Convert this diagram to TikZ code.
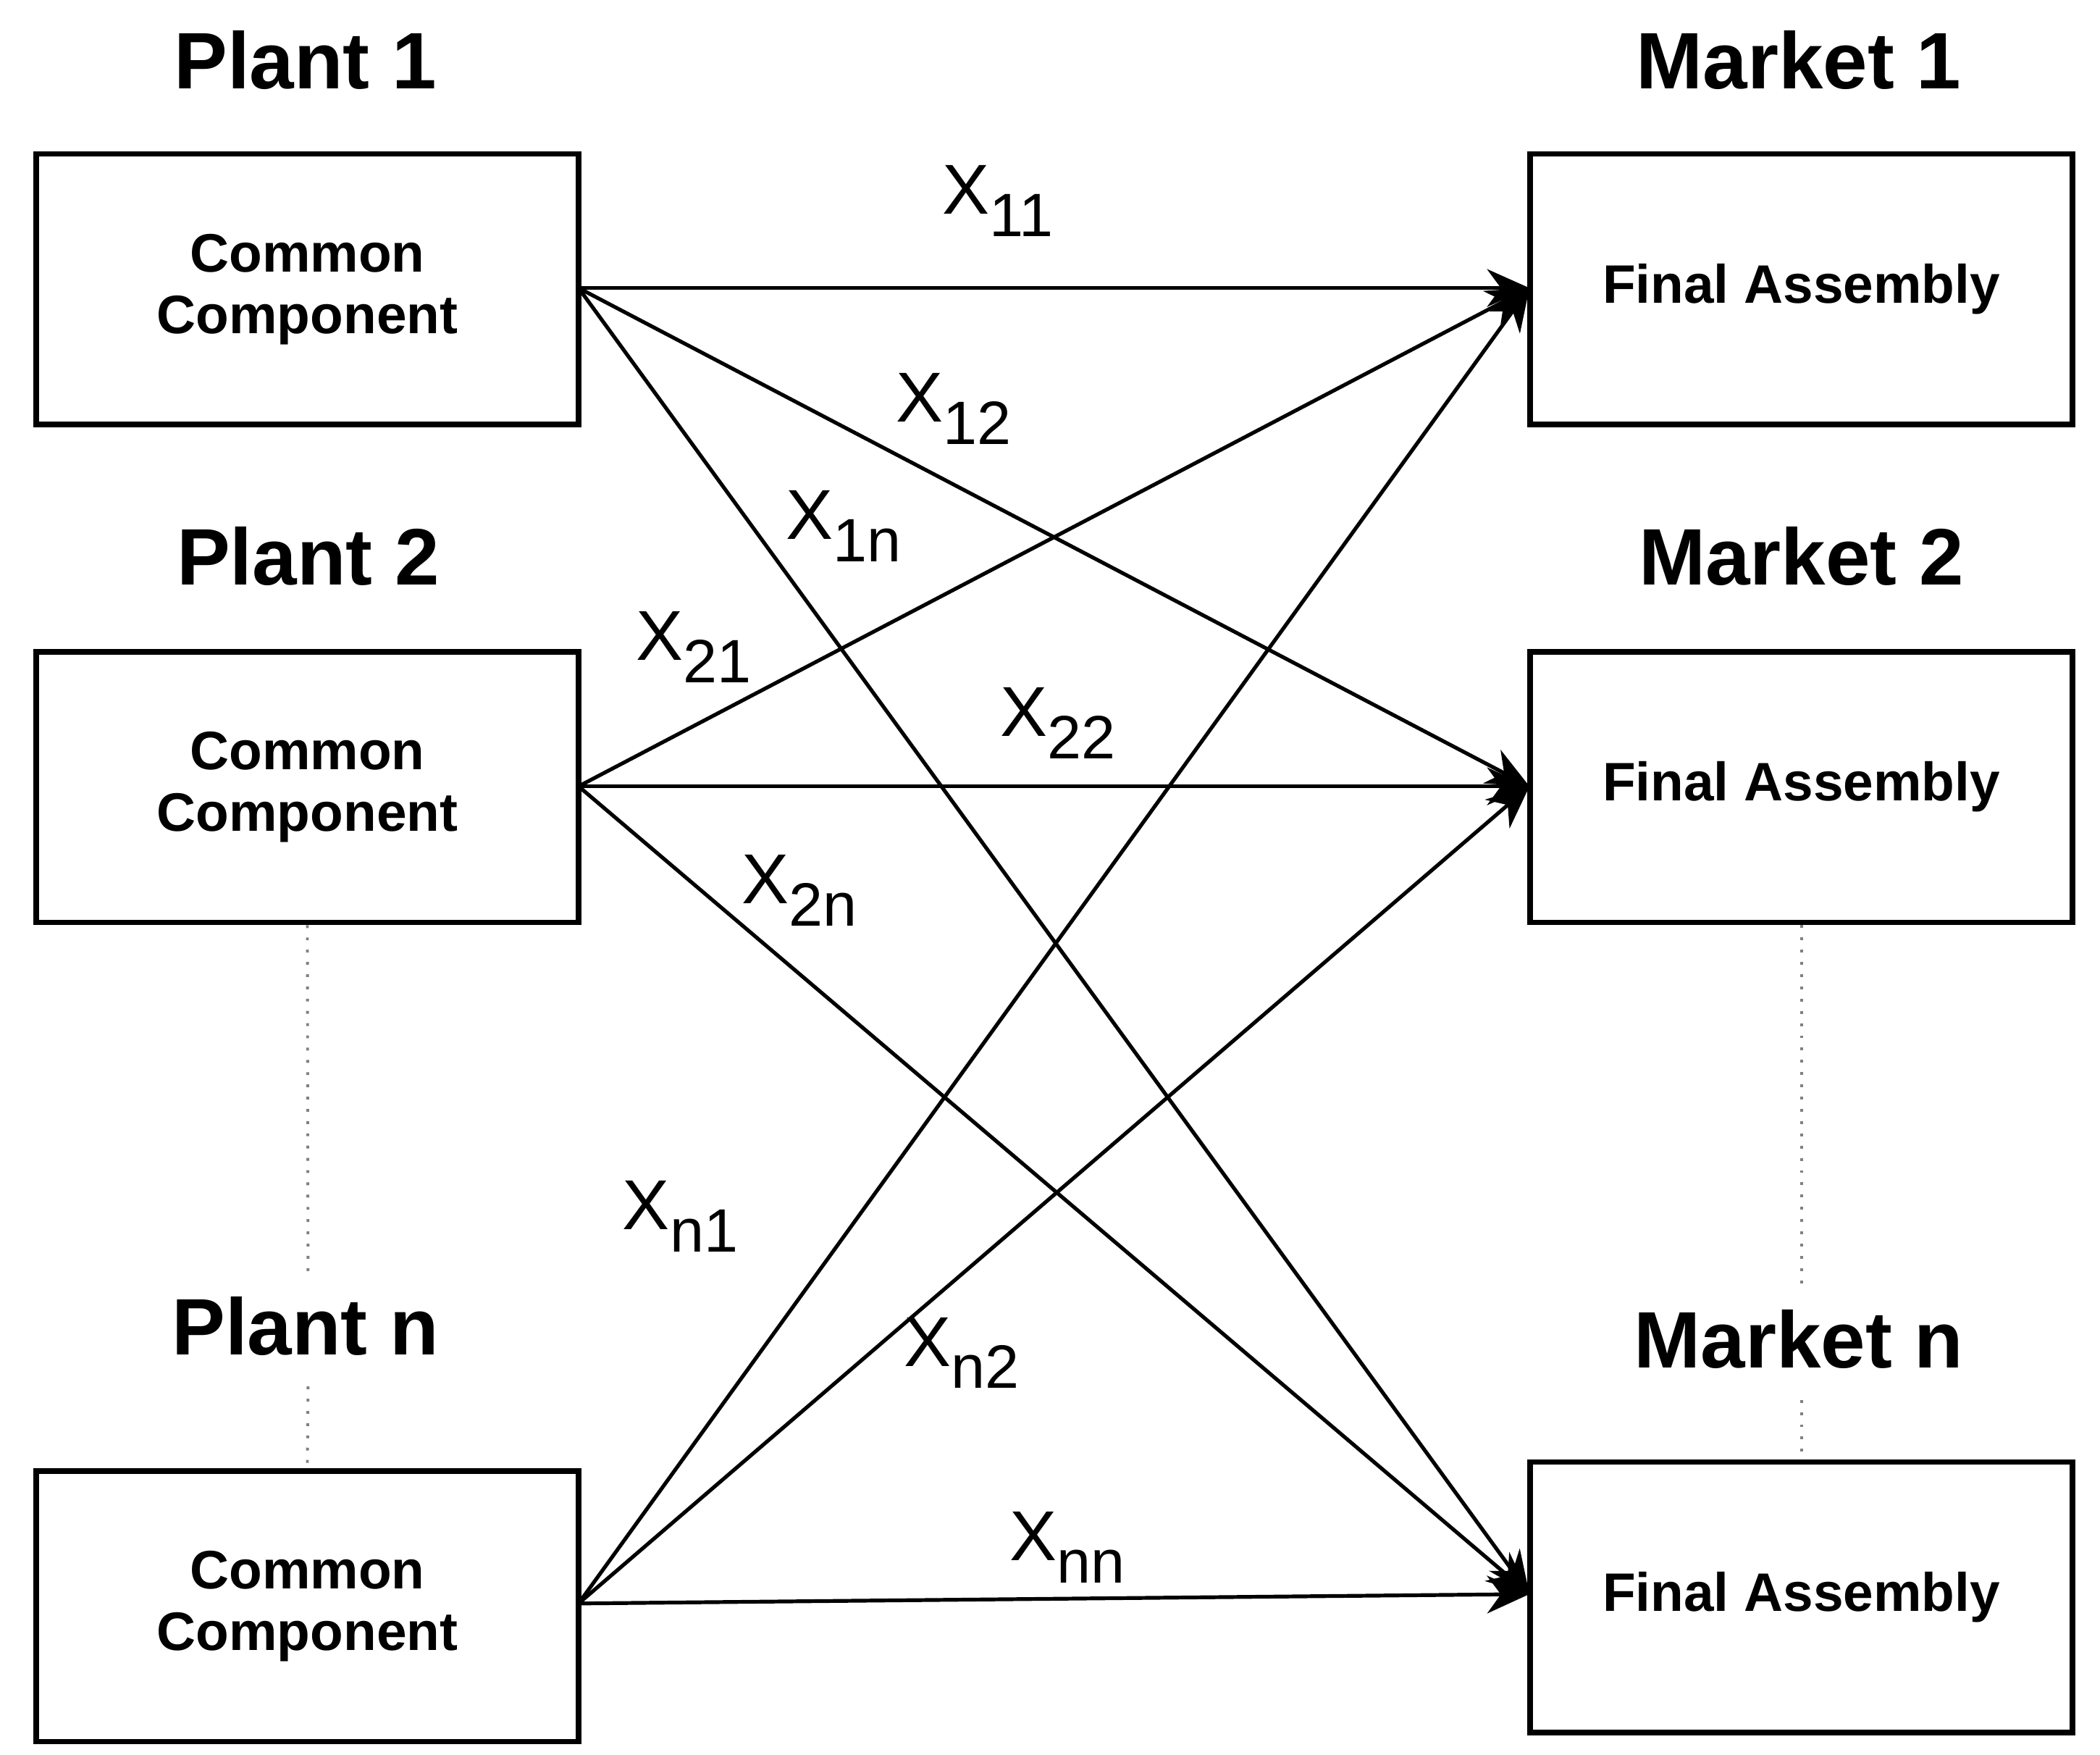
\documentclass[tikz,border=0pt]{standalone}
\usepackage{fontspec}
\setmainfont{Liberation Sans}
\usetikzlibrary{arrows.meta}
\begin{document}
\begin{tikzpicture}[x=0.01cm,y=-0.01cm,
  box/.style={draw,line width=1.2pt,minimum width=4.05cm,minimum height=2.02cm,inner sep=0pt,align=center,font=\fontsize{11.5}{13}\selectfont\bfseries},
  ttl/.style={font=\fontsize{17}{20}\selectfont\bfseries},
  lab/.style={font=\fontsize{15}{16}\selectfont},
  arr/.style={line width=0.8pt,-{Stealth[length=9pt,width=8pt]}},
  dot/.style={dotted,line width=0.6pt,gray}]
\useasboundingbox (0,0) rectangle (1568,1310);
\node[box] (p1) at (229.5,216) {Common\\Component};
\node[box] (p2) at (229.5,587.5) {Common\\Component};
\node[box] (pn) at (229.5,1199) {Common\\Component};
\node[box] (m1) at (1345,216) {Final Assembly};
\node[box] (m2) at (1345,587.5) {Final Assembly};
\node[box] (mn) at (1345,1192.5) {Final Assembly};
\node[ttl] (tp1) at (228,45) {Plant 1};
\node[ttl] (tp2) at (230,415) {Plant 2};
\node[ttl] (tpn) at (228,990) {Plant n};
\node[ttl] (tm1) at (1343,45) {Market 1};
\node[ttl] (tm2) at (1345,415) {Market 2};
\node[ttl] (tmn) at (1343,1000) {Market n};
\coordinate (a1) at (432,215); \coordinate (a2) at (432,587); \coordinate (an) at (432,1197);
\coordinate (b1) at (1142,215); \coordinate (b2) at (1142,587); \coordinate (bn) at (1142,1190);
\foreach \s in {a1,a2,an}{\foreach \t in {b1,b2,bn}{\draw[arr] (\s) -- (\t);}}
\draw[dot] (p2.south) -- (230,950); \draw[dot] (230,1035) -- (pn.north);
\draw[dot] (m2.south) -- (1345,960); \draw[dot] (1345,1045) -- (mn.north);
\newcommand{\xl}[1]{X\raisebox{-0.6ex}{\fontsize{13}{14}\selectfont #1}}
\node[lab] (l11) at (745,150) {\xl{11}};
\node[lab] (l12) at (712,305) {\xl{12}};
\node[lab] (l1n) at (630,393) {\xl{1n}};
\node[lab] (l21) at (518,483) {\xl{21}};
\node[lab] (l22) at (790,540) {\xl{22}};
\node[lab] (l2n) at (597,665) {\xl{2n}};
\node[lab] (ln1) at (508,908) {\xl{n1}};
\node[lab] (ln2) at (718,1010) {\xl{n2}};
\node[lab] (lnn) at (797,1155) {\xl{nn}};
\end{tikzpicture}
\end{document}
